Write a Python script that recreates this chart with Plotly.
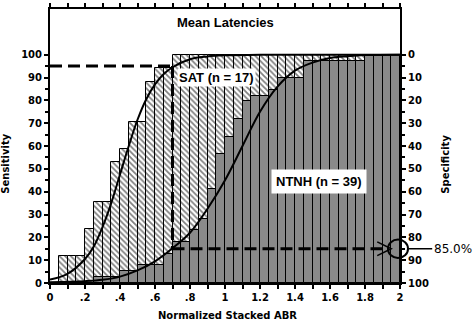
import plotly.graph_objects as go

# ---------------- data ----------------
bin_start = [0.00, 0.05, 0.10, 0.15, 0.20, 0.25, 0.30, 0.35, 0.40, 0.45,
             0.50, 0.55, 0.60, 0.65, 0.70, 0.75, 0.80, 0.85, 0.90, 0.95,
             1.00, 1.05, 1.10, 1.15, 1.20, 1.25, 1.30, 1.35, 1.40, 1.45,
             1.50, 1.55, 1.60, 1.65, 1.70, 1.75, 1.80, 1.85, 1.90, 1.95]
bin_width = 0.05

# SAT (n = 17) cumulative sensitivity (%)
sat_cum = [0, 11.8, 11.8, 11.8, 23.5, 35.3, 35.3, 52.9, 58.8, 70.6,
           70.6, 88.2, 94.1, 94.1, 100, 100, 100, 100, 100, 100,
           100, 100, 100, 100, 100, 100, 100, 100, 100, 100,
           100, 100, 100, 100, 100, 100, 100, 100, 100, 100]

# NTNH (n = 39) cumulative (100 - specificity) (%)
ntnh_cum = [0, 0, 0, 0, 0, 2.6, 2.6, 2.6, 5.1, 5.1,
            7.7, 7.7, 7.7, 12.8, 17.9, 17.9, 23.1, 28.2, 41.0, 56.4,
            64.1, 71.8, 79.5, 82.1, 82.1, 84.6, 89.7, 89.7, 89.7, 97.4,
            97.4, 97.4, 97.4, 97.4, 97.4, 97.4, 100, 100, 100, 100]

# fitted curves
sat_curve_x = [0, 0.1, 0.2, 0.25, 0.3, 0.35, 0.4, 0.45, 0.5, 0.55, 0.6, 0.65, 0.7, 0.8, 0.9, 1.0, 1.2, 1.6, 2.0]
sat_curve_y = [1.5, 4, 10.5, 16, 24.5, 35, 47.5, 60, 71.5, 80.5, 87, 91.5, 94.5, 98, 99.2, 99.7, 100, 100, 100]

ntnh_curve_x = [0, 0.2, 0.3, 0.4, 0.5, 0.6, 0.7, 0.8, 0.9, 1.0, 1.1, 1.2, 1.3, 1.4, 1.5, 1.6, 1.7, 1.8, 2.0]
ntnh_curve_y = [0.3, 0.8, 1.4, 2.8, 5.5, 9.5, 15.2, 22, 32.5, 45, 60, 75, 86, 93, 96.5, 98.5, 99.3, 99.8, 100]

x_tick_vals = [0, 0.2, 0.4, 0.6, 0.8, 1.0, 1.2, 1.4, 1.6, 1.8, 2.0]
x_tick_text = ["0", ".2", ".4", ".6", ".8", "1", "1.2", "1.4", "1.6", "1.8", "2"]
y_tick_vals = [0, 10, 20, 30, 40, 50, 60, 70, 80, 90, 100]
y_minor_vals = [5, 15, 25, 35, 45, 55, 65, 75, 85, 95]

cutoff = 0.7
sens_at_cutoff = 95
spec_at_cutoff = 85.0

# ---------------- figure ----------------
tick_font = dict(family="DejaVu Sans", size=10, color="black", weight="bold")
title_font = dict(family="DejaVu Sans", size=10, color="black", weight="bold")
label_font = dict(family="Liberation Sans", size=13, color="black", weight="bold")

fig = go.Figure()

fig.add_trace(go.Bar(
    x=bin_start, y=sat_cum, width=bin_width, offset=0,
    marker=dict(color="white",
                pattern=dict(shape="\\", fgcolor="black", bgcolor="white", size=4, solidity=0.45),
                line=dict(color="black", width=1)),
    showlegend=False, hoverinfo="skip"))

fig.add_trace(go.Bar(
    x=bin_start, y=ntnh_cum, width=bin_width, offset=0,
    marker=dict(color="#8a8a8a", line=dict(color="black", width=1)),
    showlegend=False, hoverinfo="skip"))

fig.add_trace(go.Scatter(x=sat_curve_x, y=sat_curve_y, mode="lines",
                         line=dict(color="black", width=2, shape="spline"),
                         showlegend=False, hoverinfo="skip"))
fig.add_trace(go.Scatter(x=ntnh_curve_x, y=ntnh_curve_y, mode="lines",
                         line=dict(color="black", width=2, shape="spline"),
                         showlegend=False, hoverinfo="skip"))
# anchor for right axis
fig.add_trace(go.Scatter(x=[0], y=[0], yaxis="y2", mode="markers",
                         marker=dict(opacity=0), showlegend=False, hoverinfo="skip"))

spec_level = 100 - spec_at_cutoff
dash = "12px,6px"
fig.add_shape(type="line", x0=0, x1=cutoff, y0=sens_at_cutoff, y1=sens_at_cutoff,
              line=dict(color="black", width=3, dash=dash))
fig.add_shape(type="line", x0=cutoff, x1=cutoff, y0=sens_at_cutoff, y1=spec_level,
              line=dict(color="black", width=3, dash=dash))
fig.add_shape(type="line", x0=cutoff, x1=1.93, y0=spec_level, y1=spec_level,
              line=dict(color="black", width=3, dash=dash))
# arrow head
fig.add_shape(type="path",
              path=f"M 1.87 {spec_level-3} L 1.95 {spec_level} L 1.87 {spec_level+3}",
              line=dict(color="black", width=1.5))
# circle + leader (paper coords to avoid clipping)
yp = spec_level / 120
fig.add_shape(type="circle", xref="paper", yref="paper",
              x0=0.9657, x1=1.0229, y0=yp - 0.034, y1=yp + 0.034,
              line=dict(color="black", width=2))
fig.add_shape(type="line", xref="paper", yref="paper",
              x0=1.0229, x1=1.092, y0=yp, y1=yp,
              line=dict(color="black", width=1.5))
fig.add_annotation(xref="paper", yref="paper", x=1.092, y=yp, xanchor="left", yanchor="middle",
                   text=f"{spec_at_cutoff:.1f}%", showarrow=False,
                   font=dict(family="DejaVu Sans", size=12, color="black"))

fig.add_annotation(x=1.0, y=114, text="Mean Latencies", showarrow=False, font=label_font)
fig.add_annotation(x=0.954, y=90, text="SAT (n = 17)", showarrow=False, font=label_font,
                   bgcolor="white", borderpad=1)
fig.add_annotation(x=1.537, y=44.5, text="NTNH (n = 39)", showarrow=False, font=label_font,
                   bgcolor="white", borderpad=4)

fig.add_annotation(xref="paper", yref="paper", x=0.506, y=-0.119, xanchor="center", yanchor="middle",
                   text="Normalized Stacked ABR", showarrow=False, font=title_font)
fig.add_annotation(xref="paper", yref="paper", x=-0.126, y=0.435, xanchor="center", yanchor="middle",
                   text="Sensitivity", textangle=-90, showarrow=False, font=title_font)
fig.add_annotation(xref="paper", yref="paper", x=1.131, y=0.435, xanchor="center", yanchor="middle",
                   text="Specificity", textangle=-90, showarrow=False, font=title_font)

fig.update_layout(
    width=474, height=324,
    margin=dict(l=50, r=74, t=3, b=41),
    paper_bgcolor="white", plot_bgcolor="white",
    barmode="overlay", bargap=0,
    xaxis=dict(range=[0, 2], tickvals=x_tick_vals, ticktext=x_tick_text,
               ticks="outside", ticklen=4, tickwidth=1.5, tickcolor="black",
               minor=dict(dtick=0.1, ticks="outside", ticklen=4, tickcolor="black"),
               showline=True, linewidth=2, linecolor="black", mirror="ticks",
               showgrid=False, zeroline=False, tickfont=tick_font),
    yaxis=dict(range=[0, 120], tickvals=y_tick_vals,
               ticks="outside", ticklen=4, tickwidth=1.5, tickcolor="black",
               minor=dict(tickvals=y_minor_vals, ticks="outside", ticklen=3, tickcolor="black"),
               showline=True, linewidth=2, linecolor="black",
               showgrid=False, zeroline=False, tickfont=tick_font),
    yaxis2=dict(range=[100, -20], overlaying="y", side="right", anchor="x",
                tickvals=y_tick_vals,
                ticks="outside", ticklen=4, tickwidth=1.5, tickcolor="black",
                minor=dict(tickvals=y_minor_vals, ticks="outside", ticklen=3, tickcolor="black"),
                showline=True, linewidth=2, linecolor="black",
                showgrid=False, zeroline=False, tickfont=tick_font),
)

fig.write_html("out.html")
